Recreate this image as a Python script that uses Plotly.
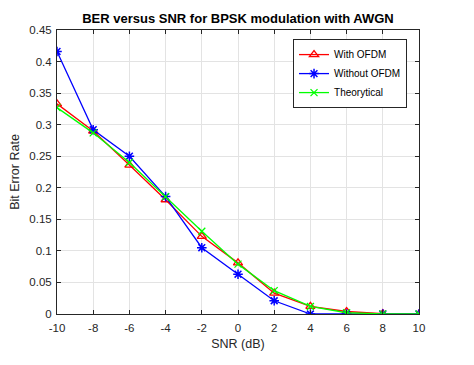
import plotly.graph_objects as go

snr_db = [-10, -8, -6, -4, -2, 0, 2, 4, 6, 8, 10]
ber_with_ofdm = [0.333, 0.290, 0.236, 0.181, 0.123, 0.081, 0.033, 0.012, 0.004, 0.0005, 0.0]
ber_without_ofdm = [0.416, 0.292, 0.250, 0.186, 0.105, 0.063, 0.021, 0.0, 0.0, 0.0, 0.0]
ber_theory = [0.327, 0.287, 0.240, 0.186, 0.131, 0.079, 0.037, 0.012, 0.002, 0.0002, 0.0]

x_tickvals = [-10, -8, -6, -4, -2, 0, 2, 4, 6, 8, 10]
x_ticktext = ["-10", "-8", "-6", "-4", "-2", "0", "2", "4", "6", "8", "10"]
y_tickvals = [0, 0.05, 0.1, 0.15, 0.2, 0.25, 0.3, 0.35, 0.4, 0.45]
y_ticktext = ["0", "0.05", "0.1", "0.15", "0.2", "0.25", "0.3", "0.35", "0.4", "0.45"]

FONT = "Liberation Sans, Arial, sans-serif"

fig = go.Figure()
fig.add_trace(go.Scatter(
    x=snr_db, y=ber_with_ofdm, name="With OFDM", mode="lines+markers",
    line=dict(color="#ff0000", width=1.3),
    marker=dict(symbol="triangle-up-open", size=8, color="#ff0000", line=dict(width=1.3, color="#ff0000")),
))
fig.add_trace(go.Scatter(
    x=snr_db, y=ber_without_ofdm, name="Without OFDM", mode="lines+markers",
    line=dict(color="#0000ff", width=1.3),
    marker=dict(symbol="asterisk-open", size=8, color="#0000ff", line=dict(width=1.5, color="#0000ff")),
))
fig.add_trace(go.Scatter(
    x=snr_db, y=ber_theory, name="Theorytical", mode="lines+markers",
    line=dict(color="#00ff00", width=1.3),
    marker=dict(symbol="x-thin-open", size=7, color="#00ff00", line=dict(width=1.3, color="#00ff00")),
))

axis_common = dict(
    showline=True, linecolor="#262626", linewidth=1, mirror="ticks",
    ticks="inside", ticklen=4, tickcolor="#262626",
    showgrid=True, gridcolor="#e3e3e3", gridwidth=1,
    zeroline=False, automargin=False,
    tickfont=dict(family=FONT, size=11.5, color="#262626"),
)

fig.update_layout(
    width=466, height=357,
    paper_bgcolor="white", plot_bgcolor="white",
    margin=dict(l=49, r=55, t=22, b=51),
    font=dict(family=FONT, color="#262626"),
    title=dict(
        text="<b>BER versus SNR for BPSK modulation with AWGN</b>",
        x=0.5, xanchor="center", xref="paper", y=0.97, yanchor="middle",
        font=dict(family=FONT, size=13, color="#000000"),
    ),
    xaxis=dict(
        range=[-10, 10], tickvals=x_tickvals, ticktext=x_ticktext,
        ticklabelstandoff=3,
        title=dict(text="SNR (dB)", font=dict(family=FONT, size=12.5, color="#262626"), standoff=6),
        **axis_common,
    ),
    yaxis=dict(
        range=[0, 0.45], tickvals=y_tickvals, ticktext=y_ticktext,
        ticklabelstandoff=2,
        title=dict(text="Bit Error Rate", font=dict(family=FONT, size=12.5, color="#262626"), standoff=6),
        **axis_common,
    ),
    legend=dict(
        x=0.652, y=0.968, xanchor="left", yanchor="top",
        bgcolor="white", bordercolor="#262626", borderwidth=1,
        font=dict(family=FONT, size=10, color="#000000"),
        itemwidth=30, tracegroupgap=0,
    ),
    showlegend=True,
)

fig.write_html("out.html")
